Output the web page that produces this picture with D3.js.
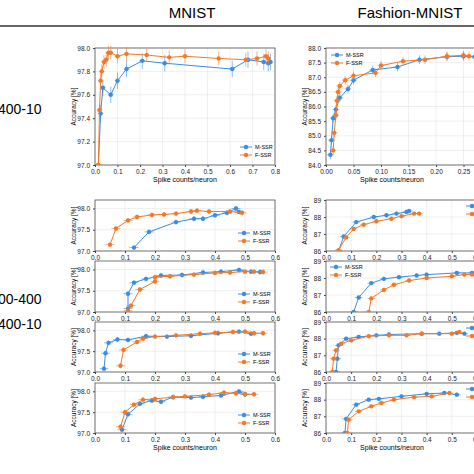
<!DOCTYPE html>
<html><head><meta charset="utf-8">
<script src="https://cdn.jsdelivr.net/npm/d3@7"></script>
<style>body{margin:0;background:#fff}text{font-family:"Liberation Sans",Arial,sans-serif}</style>
</head><body><svg id="c" width="474" height="474"></svg>
<script>
// [x, y] points
const tlM=[[0.015,97.0],[0.025,97.44],[0.035,97.66],[0.07,97.6],[0.1,97.72],[0.14,97.82],[0.21,97.89],[0.31,97.87],[0.61,97.82],[0.68,97.9],[0.75,97.88],[0.77,97.87],[0.78,97.88]];
const tlF=[[0.015,97.0],[0.02,97.47],[0.025,97.72],[0.03,97.8],[0.04,97.88],[0.05,97.9],[0.06,97.96],[0.07,97.96],[0.1,97.93],[0.14,97.95],[0.23,97.94],[0.33,97.92],[0.4,97.93],[0.55,97.91],[0.67,97.9],[0.72,97.91],[0.76,97.93],[0.77,97.91]];
const trM=[[0.008,84.35],[0.01,84.85],[0.013,85.6],[0.018,85.9],[0.025,86.3],[0.04,86.6],[0.05,86.9],[0.085,87.25],[0.13,87.35],[0.17,87.6],[0.22,87.7],[0.25,87.72],[0.27,87.7]];
const trF=[[0.013,84.5],[0.015,85.1],[0.018,85.7],[0.02,86.2],[0.022,86.5],[0.025,86.7],[0.035,86.9],[0.05,87.05],[0.09,87.15],[0.1,87.4],[0.14,87.55],[0.18,87.6],[0.22,87.72],[0.25,87.75],[0.26,87.72]];
const l1M=[[0.13,97.08],[0.18,97.45],[0.27,97.68],[0.33,97.76],[0.36,97.76],[0.4,97.84],[0.44,97.9],[0.47,98.0],[0.48,97.92]];
const l1F=[[0.05,97.15],[0.07,97.53],[0.11,97.72],[0.14,97.8],[0.19,97.85],[0.23,97.86],[0.27,97.88],[0.32,97.93],[0.34,97.95],[0.38,97.93],[0.45,97.93],[0.49,97.9]];
const l2M=[[0.11,97.08],[0.11,97.43],[0.13,97.69],[0.17,97.78],[0.22,97.86],[0.29,97.87],[0.36,97.93],[0.42,97.95],[0.48,97.99],[0.52,97.95],[0.55,97.94]];
const l2F=[[0.11,97.03],[0.12,97.15],[0.15,97.53],[0.2,97.72],[0.2,97.82],[0.25,97.84],[0.33,97.88],[0.4,97.92],[0.45,97.93],[0.5,97.95],[0.53,97.95],[0.56,97.94]];
const l3M=[[0.03,97.08],[0.035,97.45],[0.045,97.7],[0.075,97.78],[0.11,97.77],[0.17,97.86],[0.24,97.85],[0.32,97.87],[0.41,97.93],[0.48,97.97],[0.52,97.92]];
const l3F=[[0.085,97.15],[0.095,97.53],[0.14,97.72],[0.16,97.8],[0.2,97.85],[0.27,97.88],[0.35,97.92],[0.4,97.94],[0.46,97.96],[0.5,97.97],[0.53,97.93],[0.56,97.93]];
const l4M=[[0.09,97.08],[0.11,97.45],[0.15,97.7],[0.19,97.78],[0.22,97.75],[0.26,97.86],[0.32,97.85],[0.36,97.87],[0.42,97.9],[0.48,98.0],[0.5,97.93]];
const l4F=[[0.085,97.15],[0.1,97.5],[0.13,97.68],[0.16,97.8],[0.2,97.82],[0.26,97.86],[0.3,97.88],[0.38,97.92],[0.43,97.97],[0.47,97.95],[0.5,97.93],[0.53,97.93]];
const r1M=[[0.05,86.0],[0.07,86.85],[0.12,87.7],[0.19,88.0],[0.24,88.1],[0.28,88.2],[0.32,88.3],[0.33,88.35]];
const r1F=[[0.05,86.05],[0.08,86.8],[0.11,87.3],[0.15,87.55],[0.2,87.75],[0.26,87.9],[0.3,88.05],[0.35,88.2],[0.37,88.2]];
const r2M=[[0.11,86.0],[0.13,86.85],[0.18,87.7],[0.23,87.95],[0.29,88.05],[0.36,88.15],[0.4,88.2],[0.52,88.3],[0.58,88.3]];
const r2F=[[0.17,86.0],[0.18,86.8],[0.23,87.3],[0.27,87.6],[0.33,87.85],[0.4,88.0],[0.5,88.1],[0.55,88.2],[0.58,88.2]];
const r3M=[[0.04,86.0],[0.045,86.8],[0.05,87.6],[0.08,88.0],[0.13,88.1],[0.2,88.2],[0.25,88.25],[0.38,88.3],[0.45,88.3],[0.52,88.35],[0.55,88.3]];
const r3F=[[0.025,86.0],[0.03,86.8],[0.04,87.3],[0.06,87.7],[0.1,87.9],[0.17,88.15],[0.25,88.2],[0.32,88.2],[0.38,88.3],[0.5,88.3],[0.53,88.4]];
const r4M=[[0.075,86.0],[0.08,86.85],[0.12,87.7],[0.17,88.0],[0.21,88.05],[0.3,88.2],[0.4,88.35],[0.47,88.4],[0.52,88.3]];
const r4F=[[0.085,86.0],[0.09,86.8],[0.13,87.3],[0.18,87.6],[0.22,87.8],[0.27,88.0],[0.35,88.15],[0.42,88.2],[0.49,88.4]];
const seriesNames=["M-SSR","F-SSR"];
const colors=["#3b8de3","#f07a2a"];

const svg=d3.select("#c");
svg.append("text").attr("x",192).attr("y",18).attr("text-anchor","middle").attr("font-size",15).text("MNIST");
svg.append("text").attr("x",410).attr("y",18).attr("text-anchor","middle").attr("font-size",15).text("Fashion-MNIST");
svg.append("line").attr("x1",0).attr("x2",474).attr("y1",26).attr("y2",26).attr("stroke","#333").attr("stroke-width",1.5);
svg.append("text").attr("x",-2).attr("y",114).attr("font-size",14).text("400-10");
svg.append("text").attr("x",-2).attr("y",304).attr("font-size",14).text("00-400");
svg.append("text").attr("x",-2).attr("y",329).attr("font-size",14).text("400-10");

function panel(o){
  const x=d3.scaleLinear().domain(o.xd).range([o.x0,o.x1]);
  const y=d3.scaleLinear().domain(o.yd).range([o.y1,o.y0]);
  const g=svg.append("g");
  const xt=o.xt, yt=o.yt;
  g.selectAll(".gx").data(xt).join("line").attr("x1",d=>x(d)).attr("x2",d=>x(d)).attr("y1",o.y0).attr("y2",o.y1).attr("stroke","#e4e4e4").attr("stroke-width",0.6);
  g.selectAll(".gy").data(yt).join("line").attr("y1",d=>y(d)).attr("y2",d=>y(d)).attr("x1",o.x0).attr("x2",o.x1).attr("stroke","#e4e4e4").attr("stroke-width",0.6);
  const ax=g.append("g").attr("transform",`translate(0,${o.y1})`).call(d3.axisBottom(x).tickValues(xt).tickFormat(d3.format(o.xf)).tickSize(2));
  const ay=g.append("g").attr("transform",`translate(${o.x0},0)`).call(d3.axisLeft(y).tickValues(yt).tickFormat(d3.format(o.yf)).tickSize(2));
  [ax,ay].forEach(a=>{a.selectAll("text").attr("font-size",6.5).attr("fill","#222");a.select(".domain").remove();a.selectAll("line").attr("stroke","#444");});
  ax.selectAll("text").attr("dy","0.6em");
  g.append("rect").attr("x",o.x0).attr("y",o.y0).attr("width",o.x1-o.x0).attr("height",o.y1-o.y0).attr("fill","none").attr("stroke","#555").attr("stroke-width",0.8);
  g.append("text").attr("transform",`translate(${o.x0-19},${(o.y0+o.y1)/2}) rotate(-90)`).attr("text-anchor","middle").attr("font-size",6.5).text("Accuracy [%]");
  if(o.xl) g.append("text").attr("x",(o.x0+Math.min(o.x1,474))/2+(o.x1>474?-8:0)).attr("y",o.y1+17).attr("text-anchor","middle").attr("font-size",7).text("Spike counts/neuron");
  const cp="cp"+Math.random().toString(36).slice(2);
  svg.append("clipPath").attr("id",cp).append("rect").attr("x",o.x0-4).attr("y",o.y0-4).attr("width",o.x1-o.x0+8).attr("height",o.y1-o.y0+4);
  const line=d3.line().x(d=>x(d[0])).y(d=>y(d[1]));
  [o.m,o.f].forEach((data,i)=>{
    const s=g.append("g").attr("clip-path",`url(#${cp})`);
    const c=colors[i];
    s.append("path").datum(data).attr("d",line).attr("fill","none").attr("stroke",c).attr("stroke-width",1);
    const ex=o.ex[i], ey=o.ey[i];
    s.selectAll(".ex").data(data).join("line").attr("x1",d=>x(d[0]-ex)).attr("x2",d=>x(d[0]+ex)).attr("y1",d=>y(d[1])).attr("y2",d=>y(d[1])).attr("stroke",c).attr("stroke-width",0.7).attr("opacity",0.8);
    s.selectAll(".ey").data(data).join("line").attr("x1",d=>x(d[0])).attr("x2",d=>x(d[0])).attr("y1",d=>y(d[1]-ey)).attr("y2",d=>y(d[1]+ey)).attr("stroke",c).attr("stroke-width",0.7).attr("opacity",0.8);
    s.selectAll(".pt").data(data).join("circle").attr("cx",d=>x(d[0])).attr("cy",d=>y(d[1])).attr("r",2.2).attr("fill",c);
  });
  // legend
  const L=g.append("g").attr("transform",`translate(${o.lx},${o.ly})`);
  seriesNames.forEach((n,i)=>{
    const r=L.append("g").attr("transform",`translate(0,${i*8})`);
    r.append("line").attr("x1",0).attr("x2",12).attr("stroke",colors[i]).attr("stroke-width",1);
    r.append("circle").attr("cx",6).attr("r",2.2).attr("fill",colors[i]);
    r.append("text").attr("x",15).attr("y",2.2).attr("font-size",5.5).text(n);
  });
}
const lx=[0,0.1,0.2,0.3,0.4,0.5,0.6], ly=[97.0,97.5,98.0], ry=[86,87,88,89];
panel({x0:95,x1:275,y0:48,y1:165,xd:[0,0.8],yd:[97,98],xt:[0,0.1,0.2,0.3,0.4,0.5,0.6,0.7,0.8],yt:[97,97.2,97.4,97.6,97.8,98],xf:".1f",yf:".1f",m:tlM,f:tlF,ex:[0.012,0.012],ey:[0.07,0.06],lx:240,ly:147,xl:true});
panel({x0:326,x1:480,y0:48,y1:165,xd:[0,0.28],yd:[84,88],xt:[0,0.05,0.1,0.15,0.2,0.25],yt:[84,84.5,85,85.5,86,86.5,87,87.5,88],xf:".2f",yf:".1f",m:trM,f:trF,ex:[0.006,0.006],ey:[0.15,0.15],lx:331,ly:55,xl:true});
const rows=[[200,251,l1M,l1F,r1M,r1F,true],[261,312,l2M,l2F,r2M,r2F,false],[322,372,l3M,l3F,r3M,r3F,true],[383,433,l4M,l4F,r4M,r4F,true]];
rows.forEach((r,k)=>{
  panel({x0:95,x1:275,y0:r[0],y1:r[1],xd:[0,0.6],yd:[97,98.2],xt:lx,yt:ly,xf:".1f",yf:".1f",m:r[2],f:r[3],ex:[0.015,0.015],ey:[0.06,0.06],lx:238,ly:r[1]-18,xl:k===3});
  panel({x0:326,x1:477,y0:r[0],y1:r[1],xd:[0,0.6],yd:[86,89],xt:lx,yt:ry,xf:".1f",yf:"d",m:r[4],f:r[5],ex:[0.015,0.015],ey:[0.12,0.12],lx:r[6]?466:330,ly:r[0]+6,xl:k===3});
});
</script></body></html>
